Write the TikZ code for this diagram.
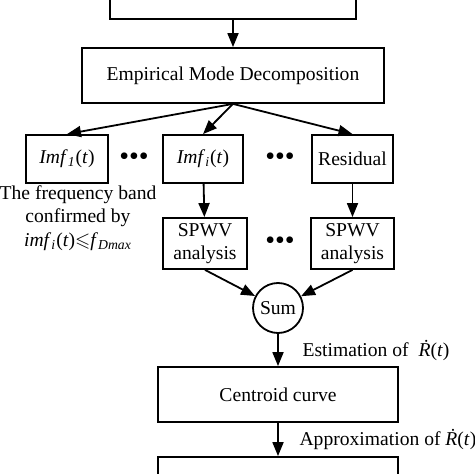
\documentclass[tikz,border=0pt]{standalone}
\usepackage{amssymb}
\usepackage{fontspec}
\setmainfont{Liberation Serif}
\usetikzlibrary{arrows.meta}

\newcommand{\rdot}{\textit{\.{R}}(\textit{t})}

\begin{document}
\begin{tikzpicture}[x=0.5pt,y=-0.5pt,
        font=\fontsize{9.8}{11.8}\selectfont,
        box/.style={draw,line width=0.9pt,inner sep=0pt,align=center},
        link/.style={line width=0.9pt,-{Triangle[length=7pt,width=5.5pt]}},
        dotrow/.style={font=\fontsize{14}{14}\selectfont,inner sep=0pt}]
        \useasboundingbox (0,0) rectangle (474,474);
        \clip (0,0) rectangle (474,474);
        % blocks
        \node[box,minimum width=123pt,minimum height=27.5pt] (input) at (233,-8.5) {};
        \node[box,minimum width=151pt,minimum height=27.5pt] (emd) at (233,75.5) {Empirical Mode Decomposition};
        \node[box,minimum width=41pt,minimum height=24pt] (imfone) at (67,159) {\textit{Imf}\textsubscript{\textit{1}}(\textit{t})};
        \node[box,minimum width=40pt,minimum height=24pt] (imfi) at (203,159) {\textit{Imf}\textsubscript{\textit{i}}(\textit{t})};
        \node[box,minimum width=40.5pt,minimum height=24pt] (resid) at (352.5,159) {Residual};
        \node[dotrow] (dotsa) at (134,159) {\textbullet\textbullet\textbullet};
        \node[dotrow] (dotsb) at (280,159) {\textbullet\textbullet\textbullet};
        \node[align=center,inner sep=0pt] (band) at (78,218) {The frequency band\\confirmed by\\
              \textit{imf}\textsubscript{\textit{i}}(\textit{t})$\leqslant$\textit{f}\textsubscript{\textit{Dmax}}};
        \node[box,minimum width=42pt,minimum height=25.5pt] (spwva) at (205,243.5) {SPWV\\analysis};
        \node[box,minimum width=41.5pt,minimum height=25.5pt] (spwvb) at (352.5,243.5) {SPWV\\analysis};
        \node[dotrow] (dotsc) at (280,243) {\textbullet\textbullet\textbullet};
        \node[draw,circle,line width=0.9pt,minimum size=25pt,inner sep=0pt] (sum) at (278,308) {Sum};
        \node[box,minimum width=120pt,minimum height=27.5pt] (centroid) at (278,394.5) {Centroid curve};
        \node[box,minimum width=120pt,minimum height=27.5pt] (output) at (278,484.5) {};
        % connectors
        \draw[link] (input) -- (emd);
        \draw[link] (emd.south) -- (imfone.north);
        \draw[link] (emd.south) -- (imfi.north);
        \draw[link] (emd.south) -- (resid.north);
        \draw[link] (imfi) -- (spwva);
        \draw[link] (resid) -- (spwvb);
        \draw[link] (spwva.south) -- (sum);
        \draw[link] (spwvb.south) -- (sum);
        \draw[link] (sum) -- (centroid) node[midway,right=8.5pt]{Estimation of~~\rdot};
        \draw[link] (centroid) -- (output.north) node[midway,right=7pt]{Approximation of~\rdot};
      \end{tikzpicture}
\end{document}
